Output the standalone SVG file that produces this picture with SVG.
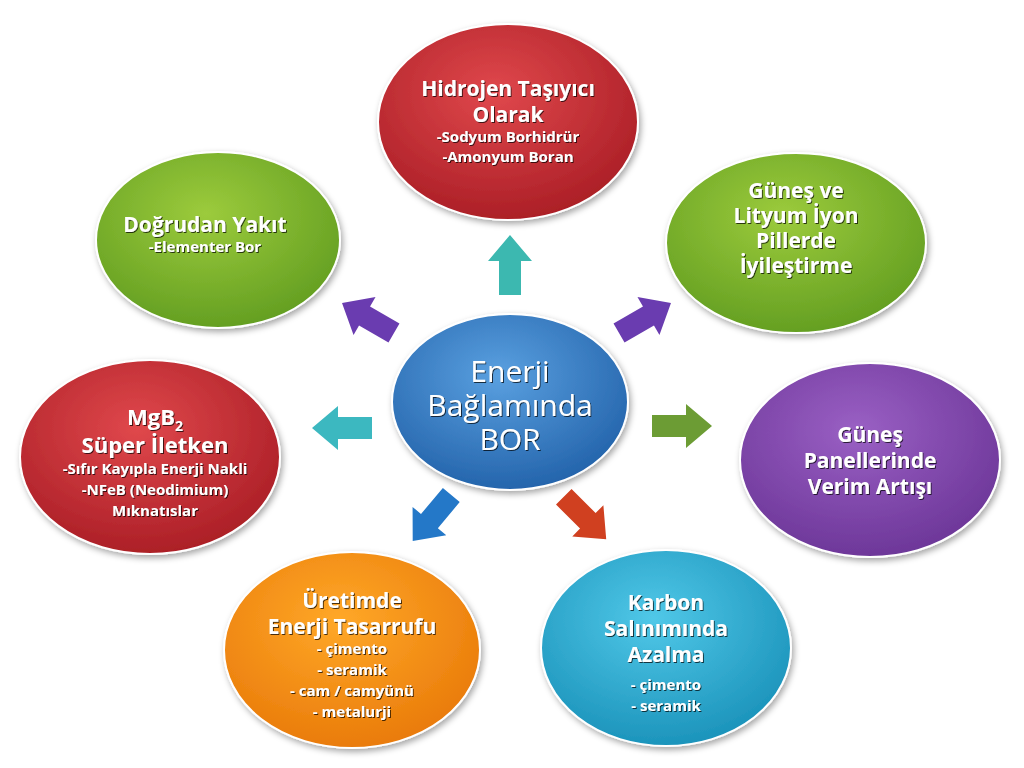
<svg xmlns="http://www.w3.org/2000/svg" width="1024" height="768" viewBox="0 0 1024 768">
<defs>
<style>
.t{font-family:"Open Sans","Liberation Sans",sans-serif;fill:#fff;text-anchor:middle;font-weight:bold;}
.big{font-size:21px}.sm{font-size:15px}.ctr{font-size:30px;font-weight:normal}
.el{stroke:#ffffff;stroke-width:2}
</style>
<filter id="sh" x="-10%" y="-10%" width="130%" height="130%"><feDropShadow dx="2" dy="3" stdDeviation="3" flood-color="#000" flood-opacity="0.35"/></filter>
<filter id="ts"><feDropShadow dx="1" dy="1" stdDeviation="0.6" flood-color="#000" flood-opacity="0.7"/></filter>
<polygon id="ar" points="-30,-11 4,-11 4,-22 30,0 4,22 4,11 -30,11"/>
<radialGradient id="gB" cx="45%" cy="35%" r="70%"><stop offset="0" stop-color="#5aa0e0"/><stop offset="1" stop-color="#2060a8"/></radialGradient>
<radialGradient id="gR" cx="45%" cy="35%" r="70%"><stop offset="0" stop-color="#e0484c"/><stop offset="1" stop-color="#a81c24"/></radialGradient>
<radialGradient id="gG" cx="45%" cy="35%" r="70%"><stop offset="0" stop-color="#9ccb3c"/><stop offset="1" stop-color="#609c20"/></radialGradient>
<radialGradient id="gP" cx="45%" cy="35%" r="70%"><stop offset="0" stop-color="#9a60c4"/><stop offset="1" stop-color="#6a3496"/></radialGradient>
<radialGradient id="gO" cx="45%" cy="35%" r="70%"><stop offset="0" stop-color="#ffa828"/><stop offset="1" stop-color="#e87808"/></radialGradient>
<radialGradient id="gC" cx="45%" cy="35%" r="70%"><stop offset="0" stop-color="#50c8e8"/><stop offset="1" stop-color="#1890b8"/></radialGradient>
</defs>
<rect width="1024" height="768" fill="#fff"/>
<g id="connectors">
<use href="#ar" fill="#3cb8b0" transform="translate(510,265) rotate(-90)"/>
<use href="#ar" fill="#6a3cb0" transform="translate(368,318) rotate(-150)"/>
<use href="#ar" fill="#6a3cb0" transform="translate(645,318) rotate(-30)"/>
<use href="#ar" fill="#6c9c34" transform="translate(682,426)"/>
<use href="#ar" fill="#3cb8c0" transform="translate(342,428) rotate(180)"/>
<use href="#ar" fill="#2478c8" transform="translate(432,518) rotate(130)"/>
<use href="#ar" fill="#d04020" transform="translate(585,518) rotate(45)"/>
</g>
<g id="n-center" filter="url(#sh)"><ellipse class="el" cx="510" cy="402" rx="118" ry="88" fill="url(#gB)"/>
<g filter="url(#ts)"><text class="t ctr" x="510" y="382">Enerji</text><text class="t ctr" x="510" y="416">Bağlamında</text><text class="t ctr" x="510" y="450">BOR</text></g></g>
<g id="n-top" filter="url(#sh)"><ellipse class="el" cx="508" cy="122" rx="130" ry="98" fill="url(#gR)"/>
<g filter="url(#ts)"><text class="t big" x="508" y="96">Hidrojen Taşıyıcı</text><text class="t big" x="508" y="122">Olarak</text><text class="t sm" x="508" y="142">-Sodyum Borhidrür</text><text class="t sm" x="508" y="162">-Amonyum Boran</text></g></g>
<g id="n-tl" filter="url(#sh)"><ellipse class="el" cx="218" cy="240" rx="122" ry="88" fill="url(#gG)"/>
<g filter="url(#ts)"><text class="t big" x="205" y="232">Doğrudan Yakıt</text><text class="t sm" x="205" y="252">-Elementer Bor</text></g></g>
<g id="n-tr" filter="url(#sh)"><ellipse class="el" cx="796" cy="243" rx="130" ry="90" fill="url(#gG)"/>
<g filter="url(#ts)"><text class="t big" x="796" y="198">Güneş ve</text><text class="t big" x="796" y="223">Lityum İyon</text><text class="t big" x="796" y="248">Pillerde</text><text class="t big" x="796" y="273">İyileştirme</text></g></g>
<g id="n-r" filter="url(#sh)"><ellipse class="el" cx="870" cy="460" rx="130" ry="97" fill="url(#gP)"/>
<g filter="url(#ts)"><text class="t big" x="870" y="442">Güneş</text><text class="t big" x="870" y="468">Panellerinde</text><text class="t big" x="870" y="494">Verim Artışı</text></g></g>
<g id="n-l" filter="url(#sh)"><ellipse class="el" cx="150" cy="457" rx="130" ry="97" fill="url(#gR)"/>
<g filter="url(#ts)"><text class="t" x="155" y="425" font-size="22">MgB<tspan font-size="14" dy="6">2</tspan></text><text class="t" x="155" y="453" font-size="22">Süper İletken</text><text class="t sm" x="155" y="474">-Sıfır Kayıpla Enerji Nakli</text><text class="t sm" x="155" y="495">-NFeB (Neodimium)</text><text class="t sm" x="155" y="516">Mıknatıslar</text></g></g>
<g id="n-bl" filter="url(#sh)"><ellipse class="el" cx="352" cy="650" rx="128" ry="98" fill="url(#gO)"/>
<g filter="url(#ts)"><text class="t big" x="352" y="608">Üretimde</text><text class="t big" x="352" y="634">Enerji Tasarrufu</text><text class="t sm" x="352" y="654">- çimento</text><text class="t sm" x="352" y="675">- seramik</text><text class="t sm" x="352" y="696">- cam / camyünü</text><text class="t sm" x="352" y="717">- metalurji</text></g></g>
<g id="n-br" filter="url(#sh)"><ellipse class="el" cx="666" cy="648" rx="125" ry="98" fill="url(#gC)"/>
<g filter="url(#ts)"><text class="t big" x="666" y="610">Karbon</text><text class="t big" x="666" y="636">Salınımında</text><text class="t big" x="666" y="662">Azalma</text><text class="t sm" x="666" y="690">- çimento</text><text class="t sm" x="666" y="711">- seramik</text></g></g>
</svg>
